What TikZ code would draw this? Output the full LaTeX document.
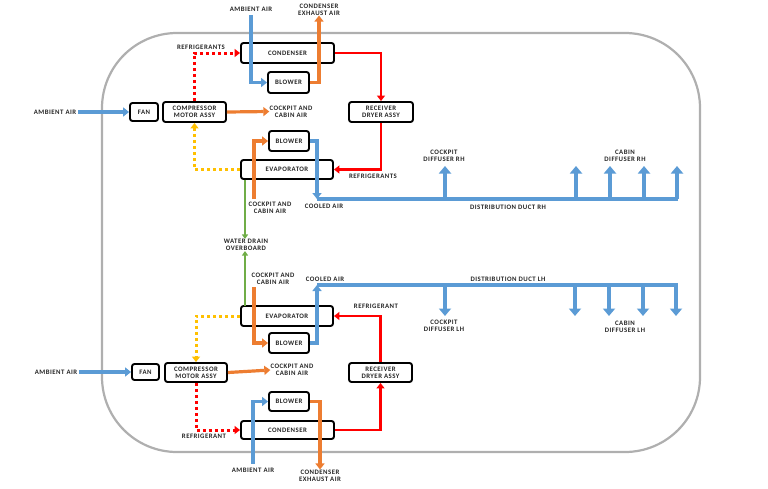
\documentclass[tikz,border=0pt]{standalone}
\usepackage{fontspec}
\setmainfont{Carlito}[LetterSpace=7]
\usetikzlibrary{arrows.meta}
\definecolor{cblue}{RGB}{91,155,213}
\definecolor{corange}{RGB}{237,125,49}
\definecolor{cred}{RGB}{255,0,0}
\definecolor{cyellow}{RGB}{255,192,0}
\definecolor{cgreen}{RGB}{112,173,71}
\definecolor{cframe}{RGB}{175,175,175}
\begin{document}
\begin{tikzpicture}[x=1pt,y=-1pt,
  every node/.style={font=\fontsize{6.8}{7.2}\selectfont\bfseries, text=black!85, inner sep=0pt, align=center},
  unit/.style={draw=black, line width=1.9pt, rounded corners=2.5pt, fill=white},
  blueflow/.style={draw=cblue, line width=3.3pt, -{Triangle[width=9pt,length=6pt]}},
  orangeflow/.style={draw=corange, line width=3.2pt, -{Triangle[width=9pt,length=6pt]}},
  redflow/.style={draw=cred, line width=2.5pt, -{Triangle[width=8pt,length=5.5pt]}},
  reddot/.style={draw=cred, line width=3pt, dash pattern=on 3pt off 3pt, -{Triangle[width=8pt,length=5.5pt]}},
  yeldot/.style={draw=cyellow, line width=3pt, dash pattern=on 3pt off 3pt, -{Triangle[width=8pt,length=5.5pt]}},
  greenflow/.style={draw=cgreen, line width=1.6pt, -{Triangle[width=6pt,length=4.5pt]}},
  duct/.style={draw=cblue, line width=3.3pt},
  diff/.style={draw=cblue, line width=3.3pt, -{Triangle[width=12pt,length=7.5pt]}}
]
\useasboundingbox (0,0) rectangle (768,488);
\draw[cframe, line width=2.2pt, rounded corners=75pt] (102,33) rectangle (700,452);

% ---------- top (RH) unit ----------
\node[unit, minimum width=93pt, minimum height=20pt] (cond1) at (287.5,53) {CONDENSER};
\node[unit, minimum width=41pt, minimum height=21pt] (blow1) at (288.5,82.5) {BLOWER};
\node[unit, minimum width=64pt, minimum height=20pt] (recv1) at (381,112) {RECEIVER\\DRYER ASSY};
\node[unit, minimum width=63pt, minimum height=20pt] (comp1) at (194.5,112) {COMPRESSOR\\MOTOR ASSY};
\node[unit, minimum width=28pt, minimum height=18pt] (fan1) at (144,112) {FAN};
\node[unit, minimum width=40pt, minimum height=20pt] (blow2) at (289,141) {BLOWER};
\node[unit, minimum width=92pt, minimum height=19pt] (evap1) at (287,169.5) {EVAPORATOR};

\node (amb1) at (251,9) {AMBIENT AIR};
\node (cex1) at (319,9.5) {CONDENSER\\EXHAUST AIR};
\node (amb3) at (55,112) {AMBIENT AIR};
\node (cca1) at (291,111.5) {COCKPIT AND\\CABIN AIR};
\node (ref1) at (201,47) {REFRIGERANTS};
\node (ref2) at (373,176) {REFRIGERANTS};
\node (cca2) at (270,207.5) {COCKPIT AND\\CABIN AIR};
\node (cool1) at (324,206) {COOLED AIR};
\node (wd) at (246,245) {WATER DRAIN\\OVERBOARD};
\node (cdr) at (444,156) {COCKPIT\\DIFFUSER RH};
\node (cbr) at (625,156) {CABIN\\DIFFUSER RH};
\node (ddr) at (508,207) {DISTRIBUTION DUCT RH};

\coordinate (o1) at (254,199);
\coordinate (d1s) at (317,199);
\coordinate (d1e) at (678,199);
\coordinate (g1) at (245,179.5);

\draw[blueflow] ([yshift=-4pt]amb1.south) |- (blow1.west);
\draw[orangeflow] (blow1.east) -| (cex1.south);
\draw[redflow] (cond1.east) -| (recv1.north);
\draw[redflow] (recv1.south) |- (evap1.east);
\draw[reddot] (comp1.north) |- (cond1.west);
\draw[yeldot] (evap1.west) -| (comp1.south);
\draw[blueflow] ([xshift=2pt]amb3.east) -- (fan1.west);
\draw[orangeflow] (comp1.east) -- (cca1.west);
\draw[orangeflow] (o1) |- (blow2.west);
\draw[greenflow] (g1) -- (wd.north -| g1);
\draw[duct] (d1s) -- (d1e);
\draw[blueflow] (blow2.east) -| (d1s);
\foreach \x in {445,576,610,644,677} \draw[diff] (\x,199) -- (\x,166);

% ---------- bottom (LH) unit ----------
\node[unit, minimum width=92pt, minimum height=20pt] (evap2) at (287,316) {EVAPORATOR};
\node[unit, minimum width=40pt, minimum height=20pt] (blow3) at (289,343) {BLOWER};
\node[unit, minimum width=63pt, minimum height=19pt] (recv2) at (380.5,372.5) {RECEIVER\\DRYER ASSY};
\node[unit, minimum width=62pt, minimum height=19pt] (comp2) at (196,372.5) {COMPRESSOR\\MOTOR ASSY};
\node[unit, minimum width=27pt, minimum height=16pt] (fan2) at (145.5,372) {FAN};
\node[unit, minimum width=40pt, minimum height=19pt] (blow4) at (289,401.5) {BLOWER};
\node[unit, minimum width=93pt, minimum height=18pt] (cond2) at (287.5,430) {CONDENSER};

\node (cca3) at (273,279) {COCKPIT AND\\CABIN AIR};
\node (cool2) at (325,279) {COOLED AIR};
\node (ref3) at (376,306) {REFRIGERANT};
\node (amb4) at (56,372) {AMBIENT AIR};
\node (cca4) at (292,370) {COCKPIT AND\\CABIN AIR};
\node (ref4) at (204,436) {REFRIGERANT};
\node (amb2) at (253,470) {AMBIENT AIR};
\node (cex2) at (320,475.5) {CONDENSER\\EXHAUST AIR};
\node (ddl) at (508,279) {DISTRIBUTION DUCT LH};
\node (cdl) at (444,325.5) {COCKPIT\\DIFFUSER LH};
\node (cbl) at (625,326.5) {CABIN\\DIFFUSER LH};

\coordinate (o2) at (254,287);
\coordinate (d2s) at (317,285);
\coordinate (d2e) at (678,285);
\coordinate (g2) at (245,306);

\draw[greenflow] (g2) -- (wd.south -| g2);
\draw[orangeflow] (o2) |- (blow3.west);
\draw[duct] (d2s) -- (d2e);
\draw[blueflow] (blow3.east) -| (d2s);
\draw[redflow] (recv2.north) |- (evap2.east);
\draw[redflow] (cond2.east) -| (recv2.south);
\draw[yeldot] (evap2.west) -| (comp2.north);
\draw[reddot] (comp2.south) |- (cond2.west);
\draw[blueflow] ([xshift=2pt]amb4.east) -- (fan2.west);
\draw[orangeflow] (comp2.east) -- (cca4.west);
\draw[blueflow] ([yshift=4pt]amb2.north) |- (blow4.west);
\draw[orangeflow] (blow4.east) -| (cex2.north);
\foreach \x in {445,575,609,643,676} \draw[diff] (\x,285) -- (\x,316);
\end{tikzpicture}
\end{document}
